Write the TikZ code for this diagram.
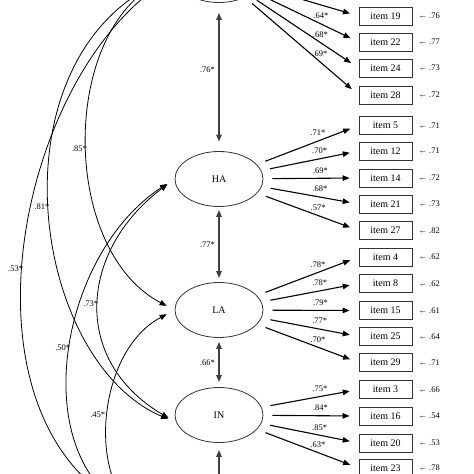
\documentclass[tikz,border=0pt]{standalone}
\usepackage{fontspec}
\setmainfont{Liberation Serif}
\usetikzlibrary{arrows.meta, positioning, shapes.geometric}

\begin{document}
\begin{tikzpicture}[
  x=1pt, y=-1pt,
  factor/.style={draw=black!80, ellipse, inner sep=0pt, minimum width=88pt,
                 minimum height=55pt, line width=0.8pt, font=\fontsize{10}{12}\selectfont},
  item/.style={draw=black!80, inner sep=0pt, minimum width=53pt, line width=0.8pt,
               minimum height=18pt, font=\fontsize{10}{12}\selectfont},
  err/.style={inner sep=0pt, font=\fontsize{8.5}{10}\selectfont},
  coef/.style={inner sep=1.5pt, font=\fontsize{8.5}{10}\selectfont},
  load/.style={-{Triangle[length=7pt, width=5.5pt]}, line width=1.1pt,
               shorten <=9pt, shorten >=9pt},
  cov/.style={{Triangle[length=7pt, width=5.5pt]}-{Triangle[length=7pt, width=5.5pt]},
              line width=0.8pt, shorten <=9pt, shorten >=9pt},
  vcov/.style={{Triangle[length=7pt, width=5.5pt]}-{Triangle[length=7pt, width=5.5pt]},
               line width=1.2pt, draw=black!75}
]
  \useasboundingbox (0,0) rectangle (474,474);

  \node[factor] (F1) at (219,-25) {};
  \node[factor] (HA) at (219,179) {HA};
  \node[factor] (LA) at (219,310) {LA};
  \node[factor] (IN) at (219,415) {IN};
  \node[factor] (F5) at (219,525) {};

  \node[item] (i19) at (385.5,16)    {item 19};
  \node[item] (i22) at (385.5,42)    {item 22};
  \node[item] (i24) at (385.5,68)    {item 24};
  \node[item] (i28) at (385.5,95)    {item 28};
  \node[item] (i5)  at (385.5,125.5) {item 5};
  \node[item] (i12) at (385.5,151)   {item 12};
  \node[item] (i14) at (385.5,178)   {item 14};
  \node[item] (i21) at (385.5,204)   {item 21};
  \node[item] (i27) at (385.5,230.5) {item 27};
  \node[item] (i4)  at (385.5,257)   {item 4};
  \node[item] (i8)  at (385.5,283.5) {item 8};
  \node[item] (i15) at (385.5,310.5) {item 15};
  \node[item] (i25) at (385.5,336.5) {item 25};
  \node[item] (i29) at (385.5,362.5) {item 29};
  \node[item] (i3)  at (385.5,389.5) {item 3};
  \node[item] (i16) at (385.5,416)   {item 16};
  \node[item] (i20) at (385.5,443)   {item 20};
  \node[item] (i23) at (385.5,468)   {item 23};

  \node[err, right=6pt of i19] (e19) {← .76};
  \node[err, right=6pt of i22] (e22) {← .77};
  \node[err, right=6pt of i24] (e24) {← .73};
  \node[err, right=6pt of i28] (e28) {← .72};
  \node[err, right=6pt of i5]  (e5)  {← .71};
  \node[err, right=6pt of i12] (e12) {← .71};
  \node[err, right=6pt of i14] (e14) {← .72};
  \node[err, right=6pt of i21] (e21) {← .73};
  \node[err, right=6pt of i27] (e27) {← .82};
  \node[err, right=6pt of i4]  (e4)  {← .62};
  \node[err, right=6pt of i8]  (e8)  {← .62};
  \node[err, right=6pt of i15] (e15) {← .61};
  \node[err, right=6pt of i25] (e25) {← .64};
  \node[err, right=6pt of i29] (e29) {← .71};
  \node[err, right=6pt of i3]  (e3)  {← .66};
  \node[err, right=6pt of i16] (e16) {← .54};
  \node[err, right=6pt of i20] (e20) {← .53};
  \node[err, right=6pt of i23] (e23) {← .78};

  \draw[load] (F1) -- (i19.west);
  \draw[load] (F1) -- (i22.west) node[coef, pos=0.64, above=3pt] {.64*};
  \draw[load] (F1) -- (i24.west) node[coef, pos=0.65, above=3pt] {.68*};
  \draw[load] (F1) -- (i28.west) node[coef, pos=0.66, above=3pt] {.69*};

  \draw[load] (HA) -- (i5.west)  node[coef, pos=0.6, above=3pt] {.71*};
  \draw[load] (HA) -- (i12.west) node[coef, pos=0.6, above=3pt] {.70*};
  \draw[load] (HA) -- (i14.west) node[coef, pos=0.6, above=3pt] {.69*};
  \draw[load] (HA) -- (i21.west) node[coef, pos=0.6, above=3pt] {.68*};
  \draw[load] (HA) -- (i27.west) node[coef, pos=0.6, above=3pt] {.57*};

  \draw[load] (LA) -- (i4.west)  node[coef, pos=0.6, above=3pt] {.78*};
  \draw[load] (LA) -- (i8.west)  node[coef, pos=0.6, above=3pt] {.78*};
  \draw[load] (LA) -- (i15.west) node[coef, pos=0.6, above=3pt] {.79*};
  \draw[load] (LA) -- (i25.west) node[coef, pos=0.6, above=3pt] {.77*};
  \draw[load] (LA) -- (i29.west) node[coef, pos=0.6, above=3pt] {.70*};

  \draw[load] (IN) -- (i3.west)  node[coef, pos=0.6, above=3pt] {.75*};
  \draw[load] (IN) -- (i16.west) node[coef, pos=0.6, above=3pt] {.84*};
  \draw[load] (IN) -- (i20.west) node[coef, pos=0.6, above=3pt] {.85*};
  \draw[load] (IN) -- (i23.west) node[coef, pos=0.6, above=3pt] {.63*};

  \draw[vcov, shorten <=10pt, shorten >=9.5pt] (F1) -- (HA)
    node[coef, pos=0.45, left=2pt] {.76*};
  \draw[vcov, shorten <=3pt, shorten >=4pt] (HA) -- (LA)
    node[coef, midway, left=2pt] {.77*};
  \draw[vcov, shorten <=4pt, shorten >=5pt] (LA) -- (IN)
    node[coef, midway, left=2pt] {.66*};
  \draw[vcov, shorten <=7pt, shorten >=9pt] (IN) -- (F5);

  \draw[cov] (F1.west) .. controls (5,90) and (-55,460) .. (F5.west)
    node[coef, pos=0.5, left] {.53*};
  \draw[cov] (F1.west) .. controls (-10,60) and (30,360) .. (IN.190)
    node[coef, pos=0.5, left] {.81*};
  \draw[cov] (F1.west) .. controls (60,30) and (60,250) .. (LA.west)
    node[coef, pos=0.52, left] {.85*};
  \draw[cov] (HA.west) .. controls (80,250) and (70,360) .. (IN.190)
    node[coef, pos=0.5, left] {.73*};
  \draw[cov] (HA.west) .. controls (50,260) and (20,490) .. (F5.west)
    node[coef, pos=0.45, left] {.50*};
  \draw[cov] (LA.west) .. controls (90,355) and (85,510) .. (F5.west)
    node[coef, pos=0.45, left=3pt] {.45*};
\end{tikzpicture}
\end{document}
